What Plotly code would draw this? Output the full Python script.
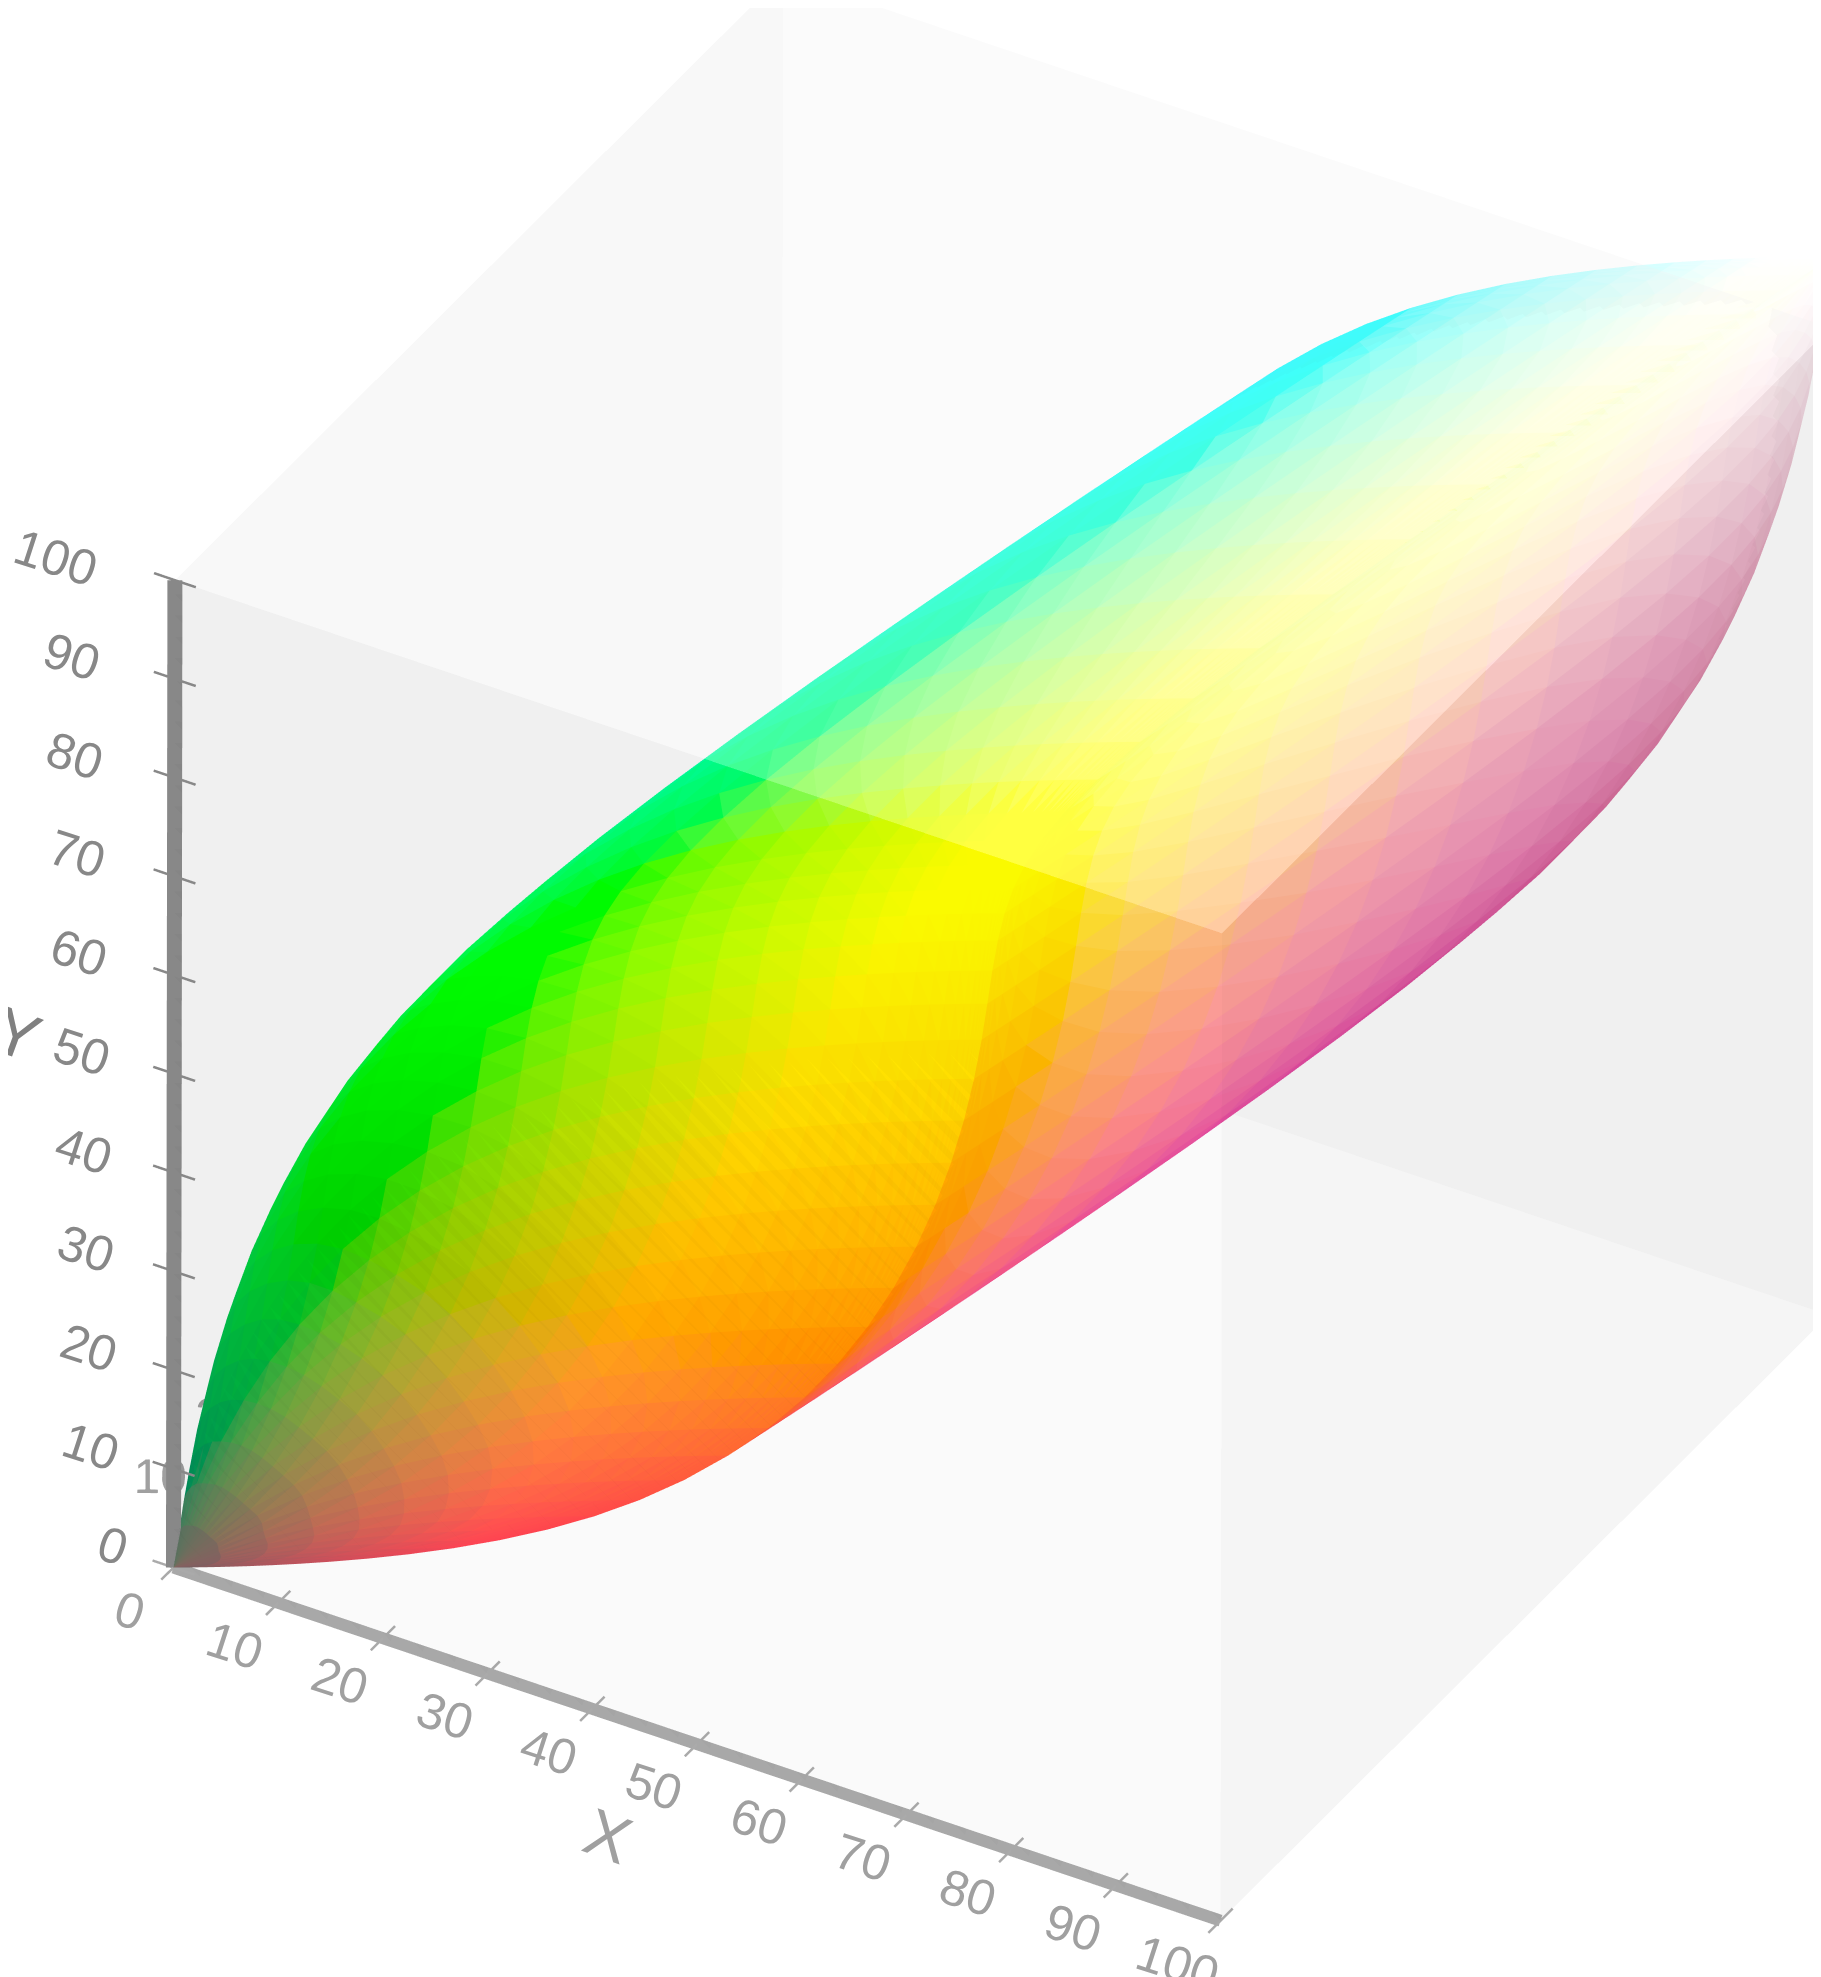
import numpy as np
import plotly.graph_objects as go

# Published source tables of the surface (CIE 1931 2-degree observer, D65), 380-740 nm in 5 nm steps
CMF_X = [0.001368,0.002236,0.004243,0.00765,0.01431,0.02319,0.04351,0.07763,0.13438,0.21477,0.2839,0.3285,0.34828,0.34806,0.3362,0.3187,0.2908,0.2511,0.19536,0.1421,0.09564,0.05795,0.03201,0.0147,0.0049,0.0024,0.0093,0.0291,0.06327,0.1096,0.1655,0.22575,0.2904,0.3597,0.43345,0.51205,0.5945,0.6784,0.7621,0.8425,0.9163,0.9786,1.0263,1.0567,1.0622,1.0456,1.0026,0.9384,0.85445,0.7514,0.6424,0.5419,0.4479,0.3608,0.2835,0.2187,0.1649,0.1212,0.0874,0.0636,0.04677,0.0329,0.0227,0.01584,0.011359,0.008111,0.00579,0.004109,0.002899,0.002049,0.00144,0.001,0.00069]
CMF_Y = [0.000039,0.000064,0.00012,0.000217,0.000396,0.00064,0.00121,0.00218,0.004,0.0073,0.0116,0.01684,0.023,0.0298,0.038,0.048,0.06,0.0739,0.09098,0.1126,0.13902,0.1693,0.20802,0.2586,0.323,0.4073,0.503,0.6082,0.71,0.7932,0.862,0.91485,0.954,0.9803,0.99495,1.0,0.995,0.9786,0.952,0.9154,0.87,0.8163,0.757,0.6949,0.631,0.5668,0.503,0.4412,0.381,0.321,0.265,0.217,0.175,0.1382,0.107,0.0816,0.061,0.04458,0.032,0.0232,0.017,0.01192,0.00821,0.005723,0.004102,0.002929,0.002091,0.001484,0.001047,0.00074,0.00052,0.000361,0.000249]
CMF_Z = [0.00645,0.01055,0.02005,0.03621,0.06785,0.1102,0.2074,0.3713,0.6456,1.03905,1.3856,1.62296,1.74706,1.7826,1.77211,1.7441,1.6692,1.5281,1.28764,1.0419,0.81295,0.6162,0.46518,0.3533,0.272,0.2123,0.1582,0.1117,0.07825,0.05725,0.04216,0.02984,0.0203,0.0134,0.00875,0.00575,0.0039,0.00275,0.0021,0.0018,0.00165,0.0014,0.0011,0.001,0.0008,0.0006,0.00034,0.00024,0.00019,0.0001,0.00005,0.00003,0.00002,0.00001,0,0,0,0,0,0,0,0,0,0,0,0,0,0,0,0,0,0,0]
D65 = [49.98,52.31,54.65,68.7,82.75,87.12,91.49,92.46,93.43,90.06,86.68,95.77,104.86,110.94,117.01,117.41,117.81,116.34,114.86,115.39,115.92,112.37,108.81,109.08,109.35,108.58,107.8,106.3,104.79,106.24,107.69,106.05,104.41,104.23,104.05,102.02,100.0,98.17,96.33,96.06,95.79,92.24,88.69,89.35,90.01,89.8,89.6,88.65,87.7,85.49,83.29,83.49,83.7,81.86,80.03,80.12,80.21,81.25,82.28,80.28,78.28,74.0,69.72,70.67,71.61,72.98,74.35,67.98,61.6,65.74,69.89,72.49,75.09]
XYZ_TO_RGB = [[3.2406,-1.5372,-0.4986],[-0.9689,1.8758,0.0415],[0.0557,-0.2040,1.0570]]

AXIS_TICKS = [0,10,20,30,40,50,60,70,80,90,100]
TICK_LABELS = ["0","10","20","30","40","50","60","70","80","90","100"]
Z_TICKS = [10,20,30,40,50,60,70,80,90,100]
Z_LABELS = ["10","20","30","40","50","60","70","80","90","100"]
BOX = [0,100]
HAZE = 0.12

spec = np.array([CMF_X,CMF_Y,CMF_Z]).T*np.array(D65)[:,None]
spec = spec*100/spec[:,1].sum()
N = len(spec)
cum = np.vstack([[0,0,0],np.cumsum(spec,axis=0)])
total = cum[-1]
M = N
def pos(t):
    return cum[t%M]+(t//M)*total
def band(lo,w):
    return pos(lo+w)-pos(lo)
def srgb(xyz,wrapped):
    xyz=np.asarray(xyz)
    Y=xyz[1]/100
    lin = np.array(XYZ_TO_RGB)@(xyz/100)+HAZE*max(0,1-Y)**1.5
    if not wrapped:
        lin[0]*=1.2
    lin = np.clip(lin,0,1)
    if wrapped:
        lin[1]*=1-0.28*lin[0]*(1-np.clip((Y-0.72)/0.25,0,1))
    m = max(0,min(lin[0],lin[2])-lin[1])
    lin = lin*np.array([1-0.4*m,1,1-0.8*m])
    g = np.where(lin<=0.0031308,12.92*lin,1.055*lin**(1/2.4)-0.055)
    r,gg,b = (np.clip(g,0,1)*255).round().astype(int)
    return f"rgb({r},{gg},{b})"

verts = np.array([band(lo,w) for lo in range(M) for w in range(M+1)])
vid = lambda lo,w:(lo%M)*(M+1)+w
I=[];J=[];KK=[];FC=[]
for a in range(M):
    for d in range(M-1):
        A,B,C,D=vid(a+1,d),vid(a,d+1),vid(a+1,d+1),vid(a,d+2)
        wrapped=a+1+d>=M
        for t in ((A,B,C),(B,D,C)):
            I.append(t[0]);J.append(t[1]);KK.append(t[2])
            FC.append(srgb(verts[list(t)].mean(axis=0),wrapped))

fig=go.Figure()
fig.add_trace(go.Mesh3d(x=verts[:,0],y=verts[:,1],z=-verts[:,2],i=I,j=J,k=KK,facecolor=FC,flatshading=True,
    lighting=dict(ambient=1,diffuse=0,specular=0,fresnel=0,roughness=1),hoverinfo="skip",showscale=False))

lo,hi=BOX
def wall(axis,val,color,op):
    a=[lo,hi,hi,lo];b=[lo,lo,hi,hi];c=[val]*4
    p={0:(c,a,b),1:(a,c,b),2:(a,b,c)}[axis]
    fig.add_trace(go.Mesh3d(x=p[0],y=p[1],z=[-v for v in p[2]],i=[0,0],j=[1,2],k=[2,3],color=color,opacity=op,
        flatshading=True,lighting=dict(ambient=1,diffuse=0,specular=0,fresnel=0,roughness=1),hoverinfo="skip"))
wall(2,hi,"#000000",0.02); wall(0,lo,"#000000",0.04)
wall(2,lo,"#000000",0.02); wall(0,hi,"#000000",0.04); wall(1,hi,"#ffffff",0.25)

def seg(xs,ys,zs,color,width):
    fig.add_trace(go.Scatter3d(x=xs,y=ys,z=[-v for v in zs],mode="lines",line=dict(color=color,width=width),hoverinfo="skip"))
seg([lo,lo],[lo,hi],[lo,lo],"#888888",30)
seg([lo,hi],[lo,lo],[lo,lo],"#a8a8a8",24)
seg([lo,lo],[lo,lo],[lo,hi],"#a8a8a8",24)
for t in AXIS_TICKS:
    seg([-2,2],[t,t],[lo,lo],"#888888",5)
    seg([t,t],[lo,lo],[-2,2],"#aaaaaa",5)
    seg([-2,2],[lo,lo],[t,t],"#aaaaaa",5)
fig.add_trace(go.Scatter3d(x=[-7]*len(Z_TICKS),y=[-6]*len(Z_TICKS),z=[-t for t in Z_TICKS],mode="text",text=Z_LABELS,
    textfont=dict(size=48,color="#a0a0a0",family="Liberation Sans"),hoverinfo="skip"))

ann=[]
FONT="Liberation Sans"
for t,l in zip(AXIS_TICKS,TICK_LABELS):
    ann.append(dict(x=lo,y=t,z=-lo,text=l,showarrow=False,textangle=18,xshift={1:-60,2:-80,3:-94}[len(l)]-t*0.25,yshift=22,
        font=dict(size=50,color="#888888",family=FONT)))
    ann.append(dict(x=t,y=lo,z=-lo,text=l,showarrow=False,textangle=18,xshift=-43,yshift=-43,
        font=dict(size=50,color="#a0a0a0",family=FONT)))
ann.append(dict(x=lo,y=50,z=-lo,text="Y",showarrow=False,textangle=20,xshift=-157,yshift=40,font=dict(size=66,color="#808080",family=FONT)))
ann.append(dict(x=50,y=lo,z=-lo,text="X",showarrow=False,textangle=20,xshift=-89,yshift=-92,font=dict(size=66,color="#a0a0a0",family=FONT)))

a=np.array([0.871,-0.0095,-0.497]);b=np.array([-0.291,0.813,-0.499]);e=np.array([0.409,0.579,0.7055])
ZOOM=1.225
PX=987
cen=-(83/PX)*a-(50/PX)*b+np.array([0,0,0.05*ZOOM])
eye=cen+e*3
fig.update_layout(width=1821,height=1977,margin=dict(l=0,r=0,t=0,b=0),paper_bgcolor="white",showlegend=False,
 scene=dict(domain=dict(x=[0,1],y=[0,1]),aspectmode="manual",aspectratio=dict(x=1.2*ZOOM,y=1.2*ZOOM,z=1.3*ZOOM),
  xaxis=dict(visible=False,range=[-10,110]),yaxis=dict(visible=False,range=[-10,110]),zaxis=dict(visible=False,range=[-120,10]),
  annotations=ann,
  camera=dict(projection=dict(type="orthographic"),eye=dict(x=eye[0],y=eye[1],z=eye[2]),center=dict(x=cen[0],y=cen[1],z=cen[2]),up=dict(x=b[0],y=b[1],z=b[2]))))
fig.write_html("out.html")
